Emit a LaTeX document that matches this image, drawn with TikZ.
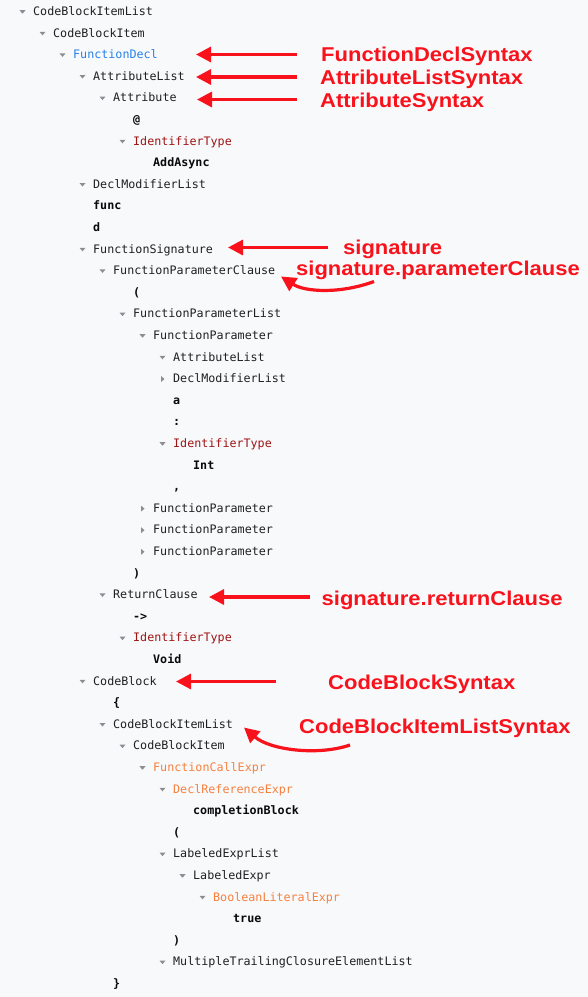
\documentclass[tikz,border=0pt]{standalone}
\usepackage{fontspec}
\usetikzlibrary{arrows.meta}
\newfontfamily\treefont{DejaVu Sans Mono}
\newfontfamily\annfont{Liberation Sans}[FakeStretch=1.1]
\definecolor{bgcol}{RGB}{248,249,251}
\definecolor{kindcol}{RGB}{32,32,32}
\definecolor{tokcol}{RGB}{10,10,10}
\definecolor{bluecol}{RGB}{40,128,232}
\definecolor{redcol}{RGB}{160,20,20}
\definecolor{orangecol}{RGB}{245,128,62}
\definecolor{tricol}{RGB}{140,140,145}
\definecolor{annred}{RGB}{248,18,28}
\tikzset{
  tnode/.style={anchor=west, inner sep=0pt, text height=9pt, text depth=0pt,
    font={\fontsize{11.7pt}{14pt}\selectfont\treefont}},
  kind/.style={tnode, text=kindcol},
  blu/.style={tnode, text=bluecol},
  rdk/.style={tnode, text=redcol},
  org/.style={tnode, text=orangecol},
  tok/.style={tnode, text=tokcol, font={\fontsize{11.7pt}{14pt}\selectfont\treefont\bfseries}},
  trifill/.style={fill=tricol},
  ann/.style={anchor=base west, inner sep=0pt, text=annred,
    font={\fontsize{20pt}{24pt}\selectfont\annfont\bfseries}},
  redarrow/.style={draw=annred, line width=3.2pt, -{Triangle[length=15pt,width=15pt]}}
}
\newcommand\trow[6]{%
  \pgfmathsetmacro\rx{33+20*#2}%
  \pgfmathsetmacro\ry{11+21.6*#3}%
  \node[#4] (#1) at (\rx,\ry) {#5};%
  \if#6d\fill[trifill] (\rx-13.5,\ry-0.8) -- (\rx-7.5,\ry-0.8) -- (\rx-10.5,\ry+2.7) -- cycle;\fi
  \if#6r\fill[trifill] (\rx-12,\ry-2.2) -- (\rx-12,\ry+3.8) -- (\rx-8.5,\ry+0.8) -- cycle;\fi
}
\begin{document}
\begin{tikzpicture}[x=1pt,y=-1pt]
\fill[bgcol] (0,0) rectangle (588,997);
\useasboundingbox (0,0) rectangle (588,997);
\trow{cbil}{0}{0}{kind}{CodeBlockItemList}{d}
\trow{cbi}{1}{1}{kind}{CodeBlockItem}{d}
\trow{fd}{2}{2}{blu}{FunctionDecl}{d}
\trow{al}{3}{3}{kind}{AttributeList}{d}
\trow{attr}{4}{4}{kind}{Attribute}{d}
\trow{atsign}{5}{5}{tok}{@}{n}
\trow{itA}{5}{6}{rdk}{IdentifierType}{d}
\trow{addasync}{6}{7}{tok}{AddAsync}{n}
\trow{dml}{3}{8}{kind}{DeclModifierList}{d}
\trow{func}{3}{9}{tok}{func}{n}
\trow{dtok}{3}{10}{tok}{d}{n}
\trow{fs}{3}{11}{kind}{FunctionSignature}{d}
\trow{fpc}{4}{12}{kind}{FunctionParameterClause}{d}
\trow{lpA}{5}{13}{tok}{(}{n}
\trow{fpl}{5}{14}{kind}{FunctionParameterList}{d}
\trow{fpA}{6}{15}{kind}{FunctionParameter}{d}
\trow{alB}{7}{16}{kind}{AttributeList}{d}
\trow{dmlB}{7}{17}{kind}{DeclModifierList}{r}
\trow{atok}{7}{18}{tok}{a}{n}
\trow{colon}{7}{19}{tok}{:}{n}
\trow{itB}{7}{20}{rdk}{IdentifierType}{d}
\trow{inttok}{8}{21}{tok}{Int}{n}
\trow{comma}{7}{22}{tok}{,}{n}
\trow{fpB}{6}{23}{kind}{FunctionParameter}{r}
\trow{fpC}{6}{24}{kind}{FunctionParameter}{r}
\trow{fpD}{6}{25}{kind}{FunctionParameter}{r}
\trow{rpA}{5}{26}{tok}{)}{n}
\trow{rc}{4}{27}{kind}{ReturnClause}{d}
\trow{arrtok}{5}{28}{tok}{->}{n}
\trow{itC}{5}{29}{rdk}{IdentifierType}{d}
\trow{voidtok}{6}{30}{tok}{Void}{n}
\trow{cb}{3}{31}{kind}{CodeBlock}{d}
\trow{lbrace}{4}{32}{tok}{\{}{n}
\trow{cbilB}{4}{33}{kind}{CodeBlockItemList}{d}
\trow{cbiB}{5}{34}{kind}{CodeBlockItem}{d}
\trow{fce}{6}{35}{org}{FunctionCallExpr}{d}
\trow{dre}{7}{36}{org}{DeclReferenceExpr}{d}
\trow{cblock}{8}{37}{tok}{completionBlock}{n}
\trow{lpB}{7}{38}{tok}{(}{n}
\trow{lel}{7}{39}{kind}{LabeledExprList}{d}
\trow{le}{8}{40}{kind}{LabeledExpr}{d}
\trow{ble}{9}{41}{org}{BooleanLiteralExpr}{d}
\trow{truetok}{10}{42}{tok}{true}{n}
\trow{rpB}{7}{43}{tok}{)}{n}
\trow{mtcel}{7}{44}{kind}{MultipleTrailingClosureElementList}{d}
\trow{rbrace}{4}{45}{tok}{\}}{n}
% annotations
\node[ann] (a1) at (321,61) {FunctionDeclSyntax};
\node[ann] (a2) at (320,84) {AttributeListSyntax};
\node[ann] (a3) at (320,107) {AttributeSyntax};
\node[ann] (a4) at (343,254) {signature};
\node[ann] (a5) at (296,275) {signature.parameterClause};
\node[ann] (a6) at (321.5,605) {signature.returnClause};
\node[ann] (a7) at (328,689) {CodeBlockSyntax};
\node[ann] (a8) at (299,733) {CodeBlockItemListSyntax};
% arrows
\coordinate (t1) at (297,54.5); \coordinate (h1) at (196,54.5);
\coordinate (t2) at (297,77);   \coordinate (h2) at (196,77);
\coordinate (t3) at (297,99.5); \coordinate (h3) at (197,99.5);
\coordinate (t4) at (328,247.5); \coordinate (h4) at (228,247.5);
\coordinate (t5) at (374,281.5); \coordinate (h5) at (281,276.5);
\coordinate (t6) at (310,597); \coordinate (h6) at (209,597);
\coordinate (t7) at (276,681.5); \coordinate (h7) at (176,681.5);
\coordinate (t8) at (350,745); \coordinate (h8) at (244,727.5);
\draw[redarrow] (t1) -- (h1);
\draw[redarrow] (t2) -- (h2);
\draw[redarrow] (t3) -- (h3);
\draw[redarrow] (t4) -- (h4);
\draw[redarrow] (t5) .. controls (340,294) and (305,292) .. (h5);
\draw[redarrow] (t6) -- (h6);
\draw[redarrow] (t7) -- (h7);
\draw[redarrow] (t8) .. controls (318,756) and (270,750) .. (h8);
\end{tikzpicture}
\end{document}
